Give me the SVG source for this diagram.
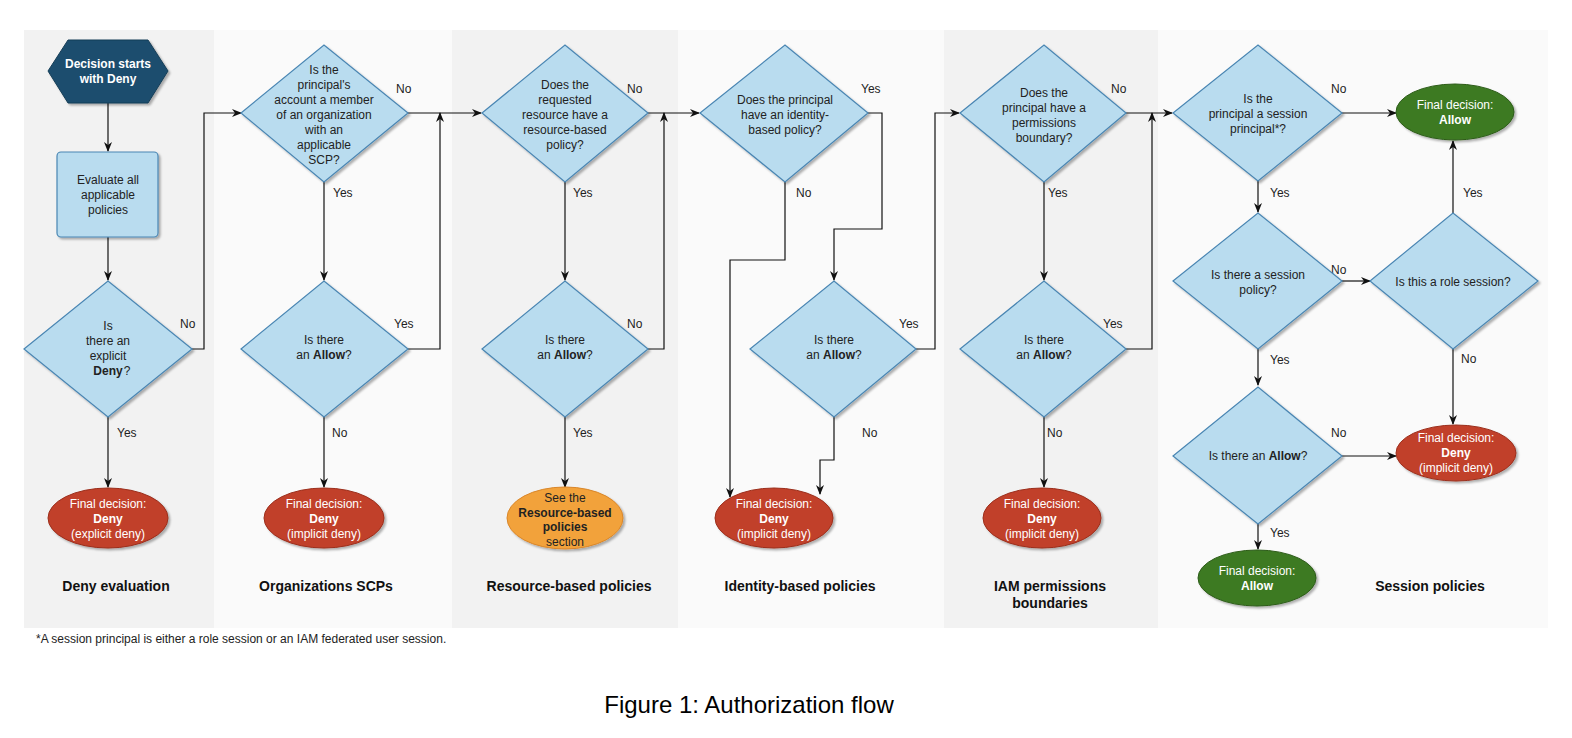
<svg xmlns="http://www.w3.org/2000/svg" width="1572" height="738" viewBox="0 0 1572 738">
<style>
text{font-family:"Liberation Sans",Arial,sans-serif;font-size:12px;fill:#222}
.d{fill:#b9dcef;stroke:#4a86b3;stroke-width:1.2;filter:url(#sh)}
.t{text-anchor:middle}
.w{fill:#fff;text-anchor:middle}
.b{font-weight:bold}
.sec{font-size:14px;font-weight:bold;text-anchor:middle;fill:#111}
.red{fill:#c1402a;stroke:#9b2f1d;filter:url(#sh)}
.grn{fill:#3d7a23;stroke:#2d5c19;filter:url(#sh)}
.c path{fill:none;stroke:#111;stroke-width:1.2;marker-end:url(#a)}
.lab{font-size:12px;fill:#222}
</style>
<defs>
<marker id="a" markerWidth="10" markerHeight="10" refX="9" refY="5" orient="auto" markerUnits="userSpaceOnUse"><path d="M0,1 L10,5 L0,9 L3,5 z" fill="#111"/></marker>
<filter id="sh" x="-10%" y="-10%" width="130%" height="130%"><feDropShadow dx="2" dy="2" stdDeviation="1.2" flood-color="#000" flood-opacity="0.3"/></filter>
</defs>
<rect width="1572" height="738" fill="#fff"/>
<g id="panels">
<rect x="24" y="30" width="190" height="598" fill="#f2f2f2"/>
<rect x="214" y="30" width="238" height="598" fill="#fafafa"/>
<rect x="452" y="30" width="226" height="598" fill="#f2f2f2"/>
<rect x="678" y="30" width="266" height="598" fill="#fafafa"/>
<rect x="944" y="30" width="214" height="598" fill="#f2f2f2"/>
<rect x="1158" y="30" width="390" height="598" fill="#fafafa"/>
</g>
<g class="c" id="connectors">
<path d="M108,103 V151"/>
<path d="M108,237 V280"/>
<path d="M192,349 H204 V113 H241"/>
<path d="M108,417 V487"/>
<path d="M408,113 H481"/>
<path d="M324,182 V280"/>
<path d="M408,349 H440 V113"/>
<path d="M324,417 V487"/>
<path d="M648,113 H699"/>
<path d="M565,182 V280"/>
<path d="M648,349 H664 V113"/>
<path d="M565,417 V487"/>
<path d="M868,113 H882 V229 H834 V280"/>
<path d="M785,182 V260 H730 V497"/>
<path d="M916,349 H935 V113 H959"/>
<path d="M834,417 V460 H820 V494"/>
<path d="M1126,113 H1172"/>
<path d="M1044,182 V280"/>
<path d="M1126,349 H1152 V113"/>
<path d="M1044,417 V487"/>
<path d="M1342,113 H1396"/>
<path d="M1258,181 V212"/>
<path d="M1342,281 H1370"/>
<path d="M1453,213 V141"/>
<path d="M1453,349 V424"/>
<path d="M1258,349 V385"/>
<path d="M1342,456 H1396"/>
<path d="M1258,524 V549"/>
</g>
<g id="edge-labels" class="lab">
<text x="180" y="328">No</text><text x="117" y="437">Yes</text>
<text x="396" y="93">No</text><text x="333" y="197">Yes</text><text x="394" y="328">Yes</text><text x="332" y="437">No</text>
<text x="627" y="93">No</text><text x="573" y="197">Yes</text><text x="627" y="328">No</text><text x="573" y="437">Yes</text>
<text x="861" y="93">Yes</text><text x="796" y="197">No</text><text x="899" y="328">Yes</text><text x="862" y="437">No</text>
<text x="1111" y="93">No</text><text x="1048" y="197">Yes</text><text x="1103" y="328">Yes</text><text x="1047" y="437">No</text>
<text x="1331" y="93">No</text><text x="1270" y="197">Yes</text><text x="1331" y="274">No</text><text x="1463" y="197">Yes</text>
<text x="1270" y="364">Yes</text><text x="1461" y="363">No</text><text x="1331" y="437">No</text><text x="1270" y="537">Yes</text>
</g>
<g id="start"><path d="M48,71 L68,40 H148 L168,71 L148,103 H68 Z" fill="#1d4e6e" stroke="#163d57" filter="url(#sh)"/>
<text class="w b" x="108" y="68">Decision starts</text><text class="w b" x="108" y="83">with Deny</text></g>
<g id="evaluate"><rect x="57" y="152" width="101" height="85" rx="4" class="d"/>
<text class="t" x="108" y="184">Evaluate all</text><text class="t" x="108" y="199">applicable</text><text class="t" x="108" y="214">policies</text></g>
<g id="deny-q"><path d="M24,349 L108,281 L192,349 L108,417 Z" class="d"/>
<text class="t" x="108" y="330">Is</text><text class="t" x="108" y="345">there an</text><text class="t" x="108" y="360">explicit</text><text class="t b" x="108" y="375">Deny</text><text class="t" x="108" y="375" dx="19">?</text></g>
<g id="deny-explicit"><ellipse cx="108" cy="518" rx="60" ry="30" class="red"/>
<text class="w" x="108" y="508">Final decision:</text><text class="w b" x="108" y="523">Deny</text><text class="w" x="108" y="538">(explicit deny)</text></g>

<g id="scp-q"><path d="M241,113 L324,45 L408,113 L324,182 Z" class="d"/>
<text class="t" x="324" y="74">Is the</text><text class="t" x="324" y="89">principal's</text><text class="t" x="324" y="104">account a member</text><text class="t" x="324" y="119">of an organization</text><text class="t" x="324" y="134">with an</text><text class="t" x="324" y="149">applicable</text><text class="t" x="324" y="164">SCP?</text></g>
<g id="scp-allow"><path d="M241,349 L324,281 L408,349 L324,417 Z" class="d"/>
<text class="t" x="324" y="344">Is there</text><text class="t" x="324" y="359">an <tspan class="b">Allow</tspan>?</text></g>
<g id="scp-deny"><ellipse cx="324" cy="518" rx="60" ry="30" class="red"/>
<text class="w" x="324" y="508">Final decision:</text><text class="w b" x="324" y="523">Deny</text><text class="w" x="324" y="538">(implicit deny)</text></g>

<g id="rb-q"><path d="M482,113 L565,45 L648,113 L565,182 Z" class="d"/>
<text class="t" x="565" y="89">Does the</text><text class="t" x="565" y="104">requested</text><text class="t" x="565" y="119">resource have a</text><text class="t" x="565" y="134">resource-based</text><text class="t" x="565" y="149">policy?</text></g>
<g id="rb-allow"><path d="M482,349 L565,281 L648,349 L565,417 Z" class="d"/>
<text class="t" x="565" y="344">Is there</text><text class="t" x="565" y="359">an <tspan class="b">Allow</tspan>?</text></g>
<g id="rb-see"><ellipse cx="565" cy="518" rx="58" ry="31" fill="#f2a23a" stroke="#d9862a" filter="url(#sh)"/>
<text class="t" x="565" y="502">See the</text><text class="t b" x="565" y="517">Resource-based</text><text class="t b" x="565" y="531">policies</text><text class="t" x="565" y="546">section</text></g>

<g id="id-q"><path d="M700,113 L785,45 L868,113 L785,182 Z" class="d"/>
<text class="t" x="785" y="104">Does the principal</text><text class="t" x="785" y="119">have an identity-</text><text class="t" x="785" y="134">based policy?</text></g>
<g id="id-allow"><path d="M750,349 L834,281 L916,349 L834,417 Z" class="d"/>
<text class="t" x="834" y="344">Is there</text><text class="t" x="834" y="359">an <tspan class="b">Allow</tspan>?</text></g>
<g id="id-deny"><ellipse cx="774" cy="518" rx="59" ry="30" class="red"/>
<text class="w" x="774" y="508">Final decision:</text><text class="w b" x="774" y="523">Deny</text><text class="w" x="774" y="538">(implicit deny)</text></g>

<g id="pb-q"><path d="M960,113 L1044,45 L1126,113 L1044,182 Z" class="d"/>
<text class="t" x="1044" y="97">Does the</text><text class="t" x="1044" y="112">principal have a</text><text class="t" x="1044" y="127">permissions</text><text class="t" x="1044" y="142">boundary?</text></g>
<g id="pb-allow"><path d="M960,349 L1044,281 L1126,349 L1044,417 Z" class="d"/>
<text class="t" x="1044" y="344">Is there</text><text class="t" x="1044" y="359">an <tspan class="b">Allow</tspan>?</text></g>
<g id="pb-deny"><ellipse cx="1042" cy="518" rx="59" ry="30" class="red"/>
<text class="w" x="1042" y="508">Final decision:</text><text class="w b" x="1042" y="523">Deny</text><text class="w" x="1042" y="538">(implicit deny)</text></g>

<g id="s-q"><path d="M1173,113 L1258,45 L1342,113 L1258,181 Z" class="d"/>
<text class="t" x="1258" y="103">Is the</text><text class="t" x="1258" y="118">principal a session</text><text class="t" x="1258" y="133">principal*?</text></g>
<g id="s-allow-top"><ellipse cx="1455" cy="112" rx="59" ry="28" class="grn"/>
<text class="w" x="1455" y="109">Final decision:</text><text class="w b" x="1455" y="124">Allow</text></g>
<g id="s-policy"><path d="M1173,281 L1258,213 L1342,281 L1258,349 Z" class="d"/>
<text class="t" x="1258" y="279">Is there a session</text><text class="t" x="1258" y="294">policy?</text></g>
<g id="s-role"><path d="M1370,281 L1453,213 L1538,281 L1453,349 Z" class="d"/>
<text class="t" x="1453" y="286">Is this a role session?</text></g>
<g id="s-allow-q"><path d="M1173,456 L1258,387 L1342,456 L1258,524 Z" class="d"/>
<text class="t" x="1258" y="460">Is there an <tspan class="b">Allow</tspan>?</text></g>
<g id="s-deny"><ellipse cx="1456" cy="453" rx="60" ry="28" class="red"/>
<text class="w" x="1456" y="442">Final decision:</text><text class="w b" x="1456" y="457">Deny</text><text class="w" x="1456" y="472">(implicit deny)</text></g>
<g id="s-allow-bot"><ellipse cx="1257" cy="578" rx="59" ry="28" class="grn"/>
<text class="w" x="1257" y="575">Final decision:</text><text class="w b" x="1257" y="590">Allow</text></g>

<g id="sections">
<text class="sec" x="116" y="591">Deny evaluation</text>
<text class="sec" x="326" y="591">Organizations SCPs</text>
<text class="sec" x="569" y="591">Resource-based policies</text>
<text class="sec" x="800" y="591">Identity-based policies</text>
<text class="sec" x="1050" y="591">IAM permissions</text>
<text class="sec" x="1050" y="608">boundaries</text>
<text class="sec" x="1430" y="591">Session policies</text>
</g>
<text x="36" y="643" style="font-size:12px">*A session principal is either a role session or an IAM federated user session.</text>
<text x="749" y="713" style="font-size:24px;text-anchor:middle;fill:#000">Figure 1: Authorization flow</text>
</svg>
